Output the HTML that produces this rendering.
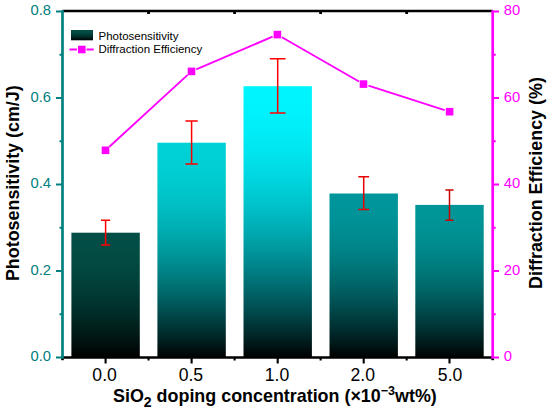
<!DOCTYPE html><html><head><meta charset="utf-8"><style>html,body{margin:0;padding:0;background:#fff;}svg{display:block;}text{font-family:"Liberation Sans",sans-serif;}</style></head><body>
<svg width="550" height="411" viewBox="0 0 550 411">
<defs>
<linearGradient id="g0" x1="0" y1="0" x2="0" y2="1"><stop offset="0.000" stop-color="#024e46"/><stop offset="0.083" stop-color="#024d45"/><stop offset="0.167" stop-color="#024c44"/><stop offset="0.250" stop-color="#024941"/><stop offset="0.333" stop-color="#02453e"/><stop offset="0.417" stop-color="#023f39"/><stop offset="0.500" stop-color="#013933"/><stop offset="0.583" stop-color="#01322d"/><stop offset="0.667" stop-color="#012a26"/><stop offset="0.750" stop-color="#01211d"/><stop offset="0.833" stop-color="#011715"/><stop offset="0.917" stop-color="#000c0b"/><stop offset="1.000" stop-color="#000000"/></linearGradient>
<linearGradient id="g1" x1="0" y1="0" x2="0" y2="1"><stop offset="0.000" stop-color="#00d2d7"/><stop offset="0.083" stop-color="#00d0d5"/><stop offset="0.167" stop-color="#00ccd0"/><stop offset="0.250" stop-color="#00c4c8"/><stop offset="0.333" stop-color="#00b9bd"/><stop offset="0.417" stop-color="#00abaf"/><stop offset="0.500" stop-color="#009a9d"/><stop offset="0.583" stop-color="#00868a"/><stop offset="0.667" stop-color="#007173"/><stop offset="0.750" stop-color="#00585b"/><stop offset="0.833" stop-color="#003e40"/><stop offset="0.917" stop-color="#002222"/><stop offset="1.000" stop-color="#000000"/></linearGradient>
<linearGradient id="g2" x1="0" y1="0" x2="0" y2="1"><stop offset="0.000" stop-color="#00f5ff"/><stop offset="0.083" stop-color="#00f3fd"/><stop offset="0.167" stop-color="#00edf7"/><stop offset="0.250" stop-color="#00e4ed"/><stop offset="0.333" stop-color="#00d7e0"/><stop offset="0.417" stop-color="#00c7cf"/><stop offset="0.500" stop-color="#00b3bb"/><stop offset="0.583" stop-color="#009da3"/><stop offset="0.667" stop-color="#008389"/><stop offset="0.750" stop-color="#00676b"/><stop offset="0.833" stop-color="#00494c"/><stop offset="0.917" stop-color="#002729"/><stop offset="1.000" stop-color="#000000"/></linearGradient>
<linearGradient id="g3" x1="0" y1="0" x2="0" y2="1"><stop offset="0.000" stop-color="#00969b"/><stop offset="0.083" stop-color="#00959a"/><stop offset="0.167" stop-color="#009196"/><stop offset="0.250" stop-color="#008c90"/><stop offset="0.333" stop-color="#008488"/><stop offset="0.417" stop-color="#007a7e"/><stop offset="0.500" stop-color="#006e71"/><stop offset="0.583" stop-color="#006063"/><stop offset="0.667" stop-color="#005053"/><stop offset="0.750" stop-color="#003f41"/><stop offset="0.833" stop-color="#002c2e"/><stop offset="0.917" stop-color="#001819"/><stop offset="1.000" stop-color="#000000"/></linearGradient>
<linearGradient id="g4" x1="0" y1="0" x2="0" y2="1"><stop offset="0.000" stop-color="#009698"/><stop offset="0.083" stop-color="#009597"/><stop offset="0.167" stop-color="#009193"/><stop offset="0.250" stop-color="#008c8e"/><stop offset="0.333" stop-color="#008486"/><stop offset="0.417" stop-color="#007a7b"/><stop offset="0.500" stop-color="#006e6f"/><stop offset="0.583" stop-color="#006061"/><stop offset="0.667" stop-color="#005051"/><stop offset="0.750" stop-color="#003f40"/><stop offset="0.833" stop-color="#002c2d"/><stop offset="0.917" stop-color="#001818"/><stop offset="1.000" stop-color="#000000"/></linearGradient>
<linearGradient id="gl" x1="0" y1="0" x2="0" y2="1"><stop offset="0.000" stop-color="#024e46"/><stop offset="0.083" stop-color="#024d45"/><stop offset="0.167" stop-color="#024c44"/><stop offset="0.250" stop-color="#024941"/><stop offset="0.333" stop-color="#02453e"/><stop offset="0.417" stop-color="#023f39"/><stop offset="0.500" stop-color="#013933"/><stop offset="0.583" stop-color="#01322d"/><stop offset="0.667" stop-color="#012a26"/><stop offset="0.750" stop-color="#01211d"/><stop offset="0.833" stop-color="#011715"/><stop offset="0.917" stop-color="#000c0b"/><stop offset="1.000" stop-color="#000000"/></linearGradient>
</defs>
<rect x="71.40" y="232.70" width="68.4" height="124.80" fill="url(#g0)"/>
<rect x="157.40" y="142.70" width="68.4" height="214.80" fill="url(#g1)"/>
<rect x="243.50" y="86.20" width="68.4" height="271.30" fill="url(#g2)"/>
<rect x="329.50" y="193.50" width="68.4" height="164.00" fill="url(#g3)"/>
<rect x="415.30" y="204.90" width="68.4" height="152.60" fill="url(#g4)"/>
<path d="M105.60 220.30V245.10M101.00 220.30H110.20M101.00 245.10H110.20" stroke="#ff0000" stroke-width="1.5" fill="none"/>
<path d="M191.60 120.90V163.90M185.45 120.90H197.75M185.45 163.90H197.75" stroke="#ff0000" stroke-width="1.5" fill="none"/>
<path d="M277.70 58.80V113.00M269.85 58.80H285.55M269.85 113.00H285.55" stroke="#ff0000" stroke-width="1.5" fill="none"/>
<path d="M363.70 176.80V209.60M358.30 176.80H369.10M358.30 209.60H369.10" stroke="#e80000" stroke-width="1.5" fill="none"/>
<path d="M449.50 189.90V220.20M445.40 189.90H453.60M445.40 220.20H453.60" stroke="#cc0000" stroke-width="1.5" fill="none"/>
<path d="M109.33 146.78L187.67 74.92M196.28 69.35L272.62 36.65M281.91 37.19L358.99 81.51M368.45 85.69L444.65 110.11" stroke="#ff00ff" stroke-width="1.85" fill="none"/>
<rect x="101.70" y="146.50" width="7.6" height="7.6" fill="#ff00ff"/>
<rect x="187.70" y="67.60" width="7.6" height="7.6" fill="#ff00ff"/>
<rect x="273.60" y="30.80" width="7.6" height="7.6" fill="#ff00ff"/>
<rect x="359.70" y="80.30" width="7.6" height="7.6" fill="#ff00ff"/>
<rect x="445.80" y="107.90" width="7.6" height="7.6" fill="#ff00ff"/>
<path d="M62.5 11.0H492.7" stroke="#000" stroke-width="2.5"/>
<path d="M61.25 357.5H493.95" stroke="#000" stroke-width="2.4"/>
<rect x="61.15" y="358.5" width="2.7" height="1.7" fill="#000"/>
<rect x="491.34999999999997" y="358.5" width="2.7" height="1.7" fill="#000"/>
<path d="M62.5 10.3V358.6" stroke="#008080" stroke-width="2.7"/>
<path d="M492.7 10.3V358.6" stroke="#ff00ff" stroke-width="2.7"/>
<path d="M56.00 357.50H62.5M59.50 314.25H62.5M56.00 271.00H62.5M59.50 227.75H62.5M56.00 184.50H62.5M59.50 141.25H62.5M56.00 98.00H62.5M59.50 54.75H62.5M56.00 11.50H62.5" stroke="#008080" stroke-width="2.1"/>
<path d="M492.7 357.50H499.00M492.7 314.25H495.70M492.7 271.00H499.00M492.7 227.75H495.70M492.7 184.50H499.00M492.7 141.25H495.70M492.7 98.00H499.00M492.7 54.75H495.70M492.7 11.50H499.00" stroke="#ff00ff" stroke-width="2.1"/>
<path d="M105.60 357.5V363.5M191.60 357.5V363.5M277.70 357.5V363.5M363.70 357.5V363.5M449.50 357.5V363.5M148.54 357.5V360.5M234.58 357.5V360.5M320.62 357.5V360.5M406.66 357.5V360.5" stroke="#000" stroke-width="2.1"/>
<path d="M148.54 11.5V14.1M234.58 11.5V14.1M320.62 11.5V14.1M406.66 11.5V14.1" stroke="#000" stroke-width="2.8"/>
<text x="51" y="361.10" font-size="14.8" fill="#008080" text-anchor="end">0.0</text>
<text x="51" y="274.60" font-size="14.8" fill="#008080" text-anchor="end">0.2</text>
<text x="51" y="188.10" font-size="14.8" fill="#008080" text-anchor="end">0.4</text>
<text x="51" y="101.60" font-size="14.8" fill="#008080" text-anchor="end">0.6</text>
<text x="51" y="15.10" font-size="14.8" fill="#008080" text-anchor="end">0.8</text>
<text x="503.8" y="361.10" font-size="14.8" fill="#ff00ff">0</text>
<text x="503.8" y="274.60" font-size="14.8" fill="#ff00ff">20</text>
<text x="503.8" y="188.10" font-size="14.8" fill="#ff00ff">40</text>
<text x="503.8" y="101.60" font-size="14.8" fill="#ff00ff">60</text>
<text x="503.8" y="15.10" font-size="14.8" fill="#ff00ff">80</text>
<text x="104.60" y="380.5" font-size="17.6" fill="#000" text-anchor="middle">0.0</text>
<text x="190.90" y="380.5" font-size="17.6" fill="#000" text-anchor="middle">0.5</text>
<text x="277.00" y="380.5" font-size="17.6" fill="#000" text-anchor="middle">1.0</text>
<text x="362.70" y="380.5" font-size="17.6" fill="#000" text-anchor="middle">2.0</text>
<text x="450.10" y="380.5" font-size="17.6" fill="#000" text-anchor="middle">5.0</text>
<text transform="translate(19.3 183.2) rotate(-90)" font-size="17.9" font-weight="bold" text-anchor="middle" fill="#000">Photosensitivity (cm/J)</text>
<text transform="translate(541.5 183) rotate(-90)" font-size="17.9" font-weight="bold" text-anchor="middle" fill="#000">Diffraction Efficiency (%)</text>
<text x="113" y="402" font-size="17.9" font-weight="bold" fill="#000">SiO<tspan font-size="14" dy="4.5">2</tspan><tspan dy="-4.5"> doping concentration (×10</tspan><tspan font-size="12.5" dy="-7">−3</tspan><tspan dy="7">wt%)</tspan></text>
<rect x="71" y="30" width="22" height="10.3" fill="url(#gl)"/>
<path d="M69.5 49.5H77M86.5 49.5H93.7" stroke="#ff00ff" stroke-width="1.9"/>
<rect x="78" y="45.7" width="7.6" height="7.6" fill="#ff00ff"/>
<text x="98.5" y="39.6" font-size="11.5" fill="#000">Photosensitivity</text>
<text x="98.5" y="53" font-size="11.5" fill="#000">Diffraction Efficiency</text>
</svg></body></html>
